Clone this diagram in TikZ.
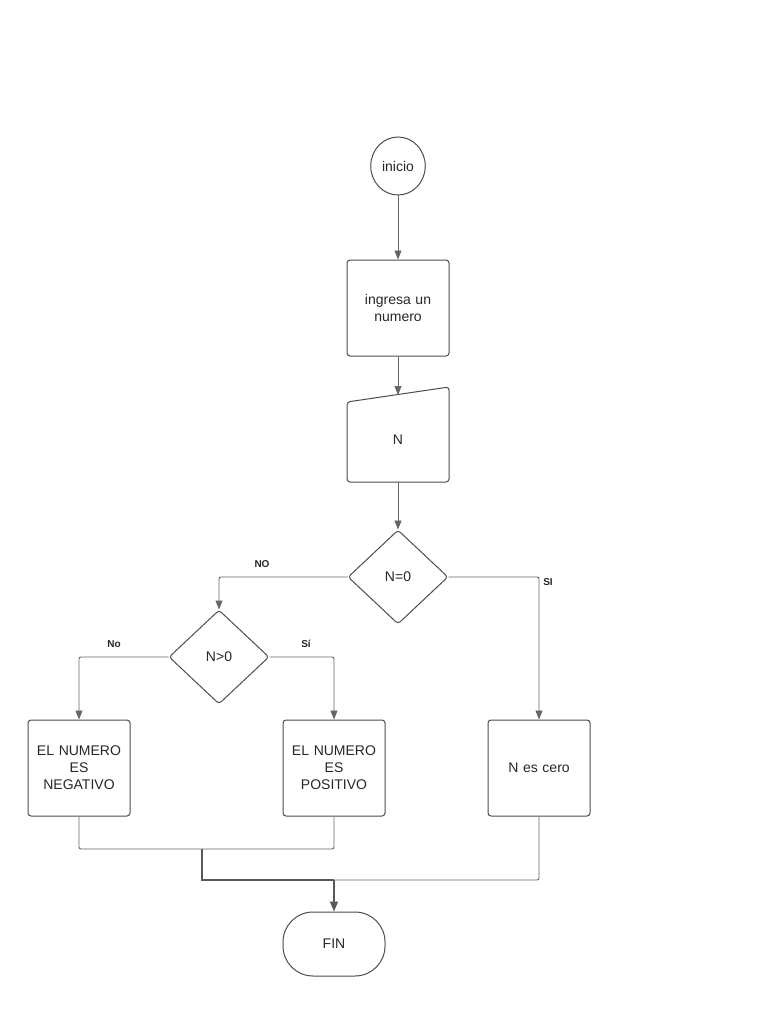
\documentclass[tikz,border=0pt]{standalone}
\usepackage{fontspec}
\setmainfont{Liberation Sans}
\usetikzlibrary{shapes.geometric,arrows.meta}
\begin{document}
\begin{tikzpicture}[x=1pt,y=-1pt,
  every node/.style={font=\fontsize{14}{17}\selectfont, text=black!85},
  box/.style={draw=black!70, line width=1pt, rounded corners=3pt, minimum width=102pt, minimum height=96pt, align=center, text width=95pt},
  dia/.style={draw=black!70, line width=1pt, diamond, minimum width=100pt, minimum height=94pt, inner sep=0pt, rounded corners=3pt, aspect=1.06},
  lab/.style={font=\fontsize{10}{12}\selectfont\bfseries},
  ln/.style={draw=black!60, line width=0.9pt, rounded corners=2pt},
  ar/.style={ln, -{Triangle[length=9pt,width=7pt]}}]
\useasboundingbox (0,0) rectangle (768,1024);
\node[draw=black!70, line width=1pt, ellipse, minimum width=52pt, minimum height=58pt] (ini) at (398,166) {inicio};
\node[box] (ing) at (398,308) {ingresa un\\numero};
\coordinate (Ntop) at (398,395);
\draw[draw=black!70, line width=1pt, rounded corners=3pt] (347,402) -- (449,387) -- (449,482) -- (347,482) -- cycle;
\node (N) at (398,440) {N};
\coordinate (Nbot) at (398,482);
\node[dia] (n0) at (398,577) {N=0};
\node[dia] (n1) at (219,657) {N>0};
\node[box] (neg) at (79,768) {EL NUMERO\\ES\\NEGATIVO};
\node[box] (pos) at (334,768) {EL NUMERO\\ES\\POSITIVO};
\node[box] (cero) at (539,768) {N es cero};
\node[draw=black!70, line width=1pt, rounded corners=30pt, minimum width=102pt, minimum height=64pt] (fin) at (334,944) {FIN};
\draw[ar] (ini) -- (ing);
\draw[ar] (ing) -- (Ntop);
\draw[ar] (Nbot) -- (n0);
\draw[ar] (n0.west) -| (n1.north);
\draw[ar] (n0.east) -| (cero.north);
\draw[ar] (n1.west) -| (neg.north);
\draw[ar] (n1.east) -| (pos.north);
\node[lab] at (262,564) {NO};
\node[lab] at (548,582) {SI};
\node[lab] at (114,644) {No};
\node[lab] at (306,644) {Sí};
\coordinate (m1) at (202,849);
\coordinate (m2) at (334,880);
\draw[ln] (neg.south) |- (m1) -| (pos.south);
\draw[ln] (cero.south) |- (m2);
\draw[draw=black!65, line width=1.6pt] (m1) |- (m2);
\draw[draw=black!65, line width=1.6pt, -{Triangle[length=10pt,width=8pt]}] (m2) -- (fin.north);
\end{tikzpicture}
\end{document}
